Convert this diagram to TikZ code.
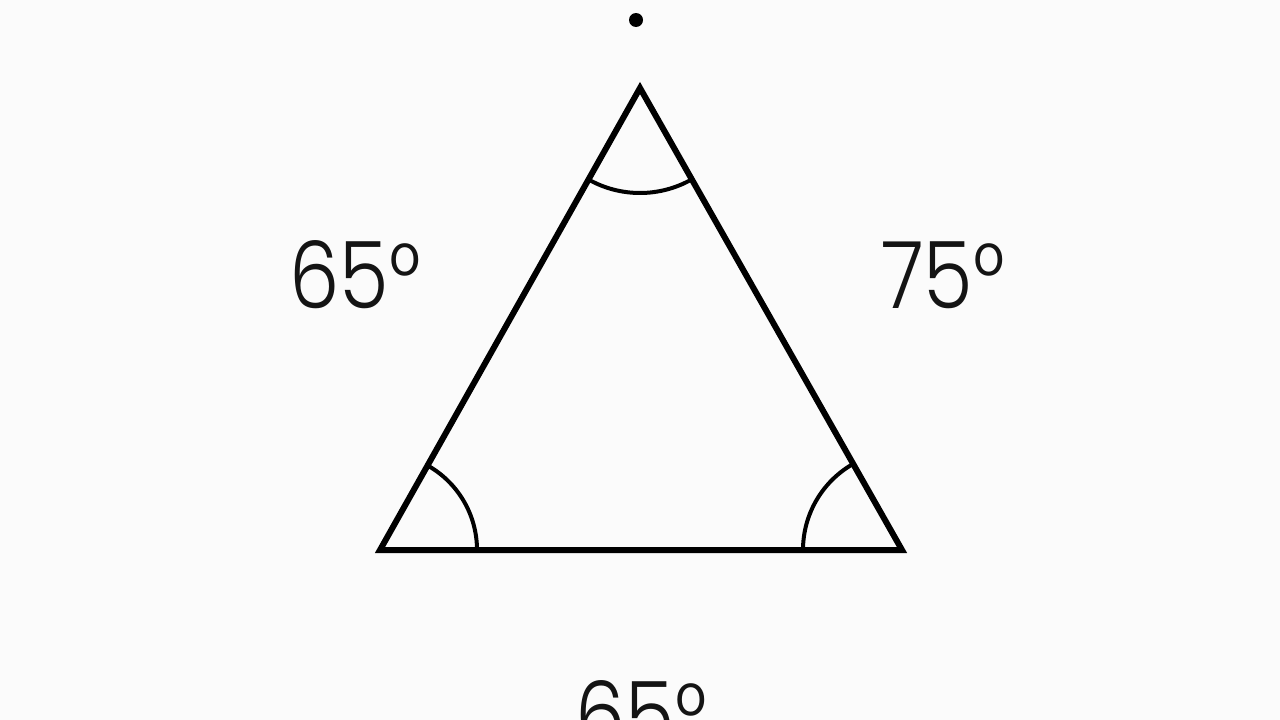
\documentclass[tikz,border=0pt]{standalone}
\usepackage{fontspec}
\setmainfont{Poppins}[UprightFont=* Light]
\begin{document}
\begin{tikzpicture}[x=1pt,y=-1pt,
  side/.style={line width=6pt,line join=miter,line cap=round},
  anglearc/.style={line width=4pt},
  lbl/.style={font=\fontsize{93}{93}\selectfont,inner sep=0pt,anchor=base,text=black!92}]
\useasboundingbox[fill=white!97!gray] (0,0) rectangle (1280,720);
\coordinate (A) at (640,88);
\coordinate (B) at (380,550);
\coordinate (C) at (902,550);
\draw[side] (A) -- (B) -- (C) -- cycle;
\draw[anglearc] (A) ++(60.4:105) arc[start angle=60.4,end angle=119.4,radius=105];
\draw[anglearc] (B) ++(-60.6:97) arc[start angle=-60.6,end angle=0,radius=97];
\draw[anglearc] (C) ++(180:99) arc[start angle=180,end angle=240.4,radius=99];
\fill (636,20) circle[radius=7];
\node[lbl] (l1) at (355,308) {\scalebox{0.86}[1]{65°}};
\node[lbl] (l2) at (943,308) {\scalebox{0.86}[1]{75°}};
\node[lbl] (l3) at (641,748) {\scalebox{0.86}[1]{65°}};
\end{tikzpicture}
\end{document}
